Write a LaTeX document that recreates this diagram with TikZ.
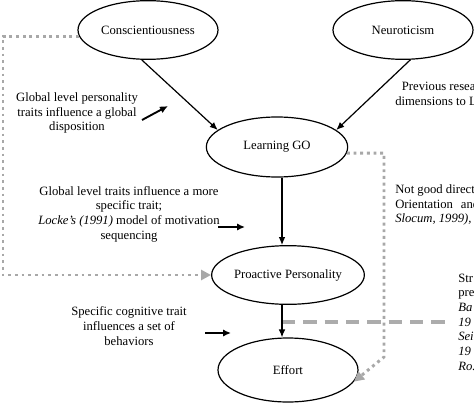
\documentclass[tikz,border=0pt]{standalone}
\usepackage{fontspec}
\setmainfont{Liberation Serif}
\usepackage{tikz}
\usetikzlibrary{shapes,arrows,arrows.meta,positioning}
\definecolor{dotgray}{RGB}{168,168,168}
\definecolor{dashgray}{RGB}{172,172,172}

\begin{document}
\begin{tikzpicture}[x=0.75pt, y=-0.75pt]
	\tikzstyle{Trait}	= [ellipse, draw, line width=0.9pt, minimum width=105pt, minimum height=44pt, inner sep=0pt, font=\fontsize{9.5}{11}\selectfont]
	\tikzstyle{Note}	= [align=center, inner sep=0pt, font=\fontsize{9.5}{11}\selectfont]
	\tikzstyle{Cut}		= [Note, align=left, anchor=west]
	\tikzstyle{Causal}	= [line width=0.9pt, -{Latex[length=6pt, width=5pt]}]
	\tikzstyle{Pointer}	= [line width=1.4pt, -{Latex[length=6pt, width=5.5pt]}]
	\tikzstyle{Link}	= [dotgray, line width=2.2pt, dash pattern=on 2.2pt off 2.8pt, -{Triangle[length=7.5pt, width=7.5pt]}]
	\tikzstyle{Moderate}	= [dashgray, line width=3pt, dash pattern=on 10pt off 6pt]

	\useasboundingbox (0, 0) rectangle (474, 406);
	\clip (0, 0) rectangle (474, 406);

	\node (cons) at (148, 30) [Trait] {Conscientiousness};
	\node (neuro) at (403, 30) [Trait] {Neuroticism};
	\node (lgo) at (277, 147) [Trait][minimum width=106pt, minimum height=45pt] {Learning GO};
	\node (pp) at (288, 275) [Trait] {Proactive Personality};
	\node (eff) at (288, 370) [Trait][minimum height=48pt] {Effort};

	\node (t1) at (77, 113) [Note] {Global level personality\\traits influence a global\\disposition};
	\node (t2) at (129, 214) [Note] {Global level traits influence a more\\specific trait;\\\textit{Locke's (1991)} model of motivation\\sequencing};
	\node (t3) at (129, 326) [Note] {Specific cognitive trait\\influences a set of\\behaviors};
	\node (r1) at (395, 94) [Cut] {\hspace*{5pt}Previous resea\\dimensions to L};
	\node (r2) at (395, 205) [Cut] {Not good direct\\Orientation\hspace{6pt}and\\\textit{Slocum, 1999),}};
	\node (r3) at (458, 322) [Cut] {Str\\pre\\\textit{Ba}\\\textit{19}\\\textit{Sei}\\\textit{19}\\\textit{Ro.}};

	\coordinate (axis) at (282, 0);
	\coordinate (dj) at (282, 322);
	\coordinate (de) at (447, 322);
	\coordinate (cL) at (3, 275);
	\coordinate (cR) at (384, 357);
	\coordinate (a1) at (142, 120);
	\coordinate (b1) at (168, 106);
	\coordinate (a2) at (218, 227);
	\coordinate (b2) at (245, 227);
	\coordinate (a3) at (205, 333);
	\coordinate (b3) at (231, 333);

	\draw (dj) to (de) [Moderate];
	\draw (cons.185) -| (cL) to (pp.west) [Link];
	\draw (lgo.-5) -| (cR) to (eff.-10) [Link];

	\draw (cons.-102) to (lgo.164) [Causal];
	\draw (neuro.-76) to (lgo.16) [Causal];
	\draw (lgo.south -| axis) to (pp.north -| axis) [Causal];
	\draw (pp.south -| axis) to (eff.north -| axis) [Causal];

	\draw (a1) to (b1) [Pointer];
	\draw (a2) to (b2) [Pointer];
	\draw (a3) to (b3) [Pointer];
\end{tikzpicture}
\end{document}
